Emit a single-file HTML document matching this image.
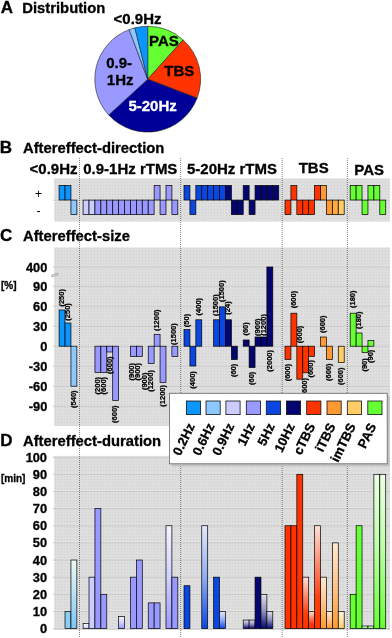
<!DOCTYPE html>
<html><head><meta charset="utf-8"><title>Figure</title><style>html,body{margin:0;padding:0;background:#fff}svg{display:block}</style></head><body>
<svg width="392" height="638" viewBox="0 0 392 638" font-family="Liberation Sans, Arial, sans-serif" font-weight="bold">
<defs>
<linearGradient id="g_c02" x1="0" y1="0" x2="0" y2="1"><stop offset="0" stop-color="#e2f2ff"/><stop offset="0.5" stop-color="#91d0ff"/><stop offset="1" stop-color="#0a96ff"/></linearGradient>
<linearGradient id="g_c06" x1="0" y1="0" x2="0" y2="1"><stop offset="0" stop-color="#f1f8ff"/><stop offset="0.5" stop-color="#cbe6ff"/><stop offset="1" stop-color="#8cc8ff"/></linearGradient>
<linearGradient id="g_c09" x1="0" y1="0" x2="0" y2="1"><stop offset="0" stop-color="#f9f9ff"/><stop offset="0.5" stop-color="#e8e8ff"/><stop offset="1" stop-color="#ccccff"/></linearGradient>
<linearGradient id="g_c1" x1="0" y1="0" x2="0" y2="1"><stop offset="0" stop-color="#f3f3ff"/><stop offset="0.5" stop-color="#d1d1ff"/><stop offset="1" stop-color="#9999ff"/></linearGradient>
<linearGradient id="g_c5" x1="0" y1="0" x2="0" y2="1"><stop offset="0" stop-color="#e2e9fb"/><stop offset="0.5" stop-color="#91acf1"/><stop offset="1" stop-color="#0a46e0"/></linearGradient>
<linearGradient id="g_c10" x1="0" y1="0" x2="0" y2="1"><stop offset="0" stop-color="#e1e1ee"/><stop offset="0.5" stop-color="#8e8ec0"/><stop offset="1" stop-color="#050572"/></linearGradient>
<linearGradient id="g_cT" x1="0" y1="0" x2="0" y2="1"><stop offset="0" stop-color="#ffe0d9"/><stop offset="0.35" stop-color="#ff8f73"/><stop offset="0.7" stop-color="#ff3d0d"/><stop offset="1" stop-color="#ff3300"/></linearGradient>
<linearGradient id="g_iT" x1="0" y1="0" x2="0" y2="1"><stop offset="0" stop-color="#ffe9d2"/><stop offset="0.5" stop-color="#ffc489"/><stop offset="1" stop-color="#ff9933"/></linearGradient>
<linearGradient id="g_iT2" x1="0" y1="0" x2="0" y2="1"><stop offset="0" stop-color="#ffecd6"/><stop offset="0.5" stop-color="#ffce93"/><stop offset="1" stop-color="#ffaa44"/></linearGradient>
<linearGradient id="g_imT" x1="0" y1="0" x2="0" y2="1"><stop offset="0" stop-color="#fff4dd"/><stop offset="0.5" stop-color="#ffe1a6"/><stop offset="1" stop-color="#ffcc66"/></linearGradient>
<linearGradient id="g_P" x1="0" y1="0" x2="0" y2="1"><stop offset="0" stop-color="#edffe7"/><stop offset="0.5" stop-color="#baffa3"/><stop offset="1" stop-color="#66ff33"/></linearGradient>
<linearGradient id="g_c06b" x1="0" y1="0" x2="0" y2="1"><stop offset="0" stop-color="#ecf9ee"/><stop offset="0.5" stop-color="#b6e1f8"/><stop offset="1" stop-color="#7cc4f8"/></linearGradient>
<pattern id="dots" x="0" y="1" width="3" height="3" patternUnits="userSpaceOnUse"><rect x="1" y="1" width="1" height="1" fill="#cfcfcf"/></pattern>
</defs>
<rect width="392" height="638" fill="#fff"/>
<text x="0.8" y="12.9" font-size="17" text-anchor="start" fill="#000" font-weight="bold" stroke="#000" stroke-width="0.3" >A</text>
<text x="22.3" y="12.9" font-size="14.8" text-anchor="start" fill="#000" font-weight="bold" stroke="#000" stroke-width="0.3" >Distribution</text>
<text x="-0.2" y="153.4" font-size="17" text-anchor="start" fill="#000" font-weight="bold" stroke="#000" stroke-width="0.3" >B</text>
<text x="23" y="153.4" font-size="14.8" text-anchor="start" fill="#000" font-weight="bold" stroke="#000" stroke-width="0.3" >Aftereffect-direction</text>
<text x="0" y="240.7" font-size="17" text-anchor="start" fill="#000" font-weight="bold" stroke="#000" stroke-width="0.3" >C</text>
<text x="23" y="240.7" font-size="14.8" text-anchor="start" fill="#000" font-weight="bold" stroke="#000" stroke-width="0.3" >Aftereffect-size</text>
<text x="0.2" y="445.8" font-size="17" text-anchor="start" fill="#000" font-weight="bold" stroke="#000" stroke-width="0.3" >D</text>
<text x="23" y="445.8" font-size="14.8" text-anchor="start" fill="#000" font-weight="bold" stroke="#000" stroke-width="0.3" >Aftereffect-duration</text>
<path d="M147.7,79.2 L147.70,26.30 A52.9,52.9 0 0 1 183.10,39.89 Z" fill="#66ff33" stroke="#222" stroke-width="0.6" stroke-linejoin="round"/>
<path d="M147.7,79.2 L183.10,39.89 A52.9,52.9 0 0 1 197.09,98.16 Z" fill="#ff3300" stroke="#222" stroke-width="0.6" stroke-linejoin="round"/>
<path d="M147.7,79.2 L197.09,98.16 A52.9,52.9 0 0 1 108.70,114.94 Z" fill="#000099" stroke="#222" stroke-width="0.6" stroke-linejoin="round"/>
<path d="M147.7,79.2 L108.70,114.94 A52.9,52.9 0 0 1 129.17,29.65 Z" fill="#9999ff" stroke="#222" stroke-width="0.6" stroke-linejoin="round"/>
<path d="M147.7,79.2 L129.17,29.65 A52.9,52.9 0 0 1 134.90,27.87 Z" fill="#8cc8ff" stroke="#222" stroke-width="0.6" stroke-linejoin="round"/>
<path d="M147.7,79.2 L134.90,27.87 A52.9,52.9 0 0 1 147.70,26.30 Z" fill="#0a96ff" stroke="#222" stroke-width="0.6" stroke-linejoin="round"/>
<text x="113.6" y="23.9" font-size="15" text-anchor="start" fill="#000" font-weight="bold" stroke="#000" stroke-width="0.3" >&lt;0.9Hz</text>
<text x="149" y="46.3" font-size="15" text-anchor="start" fill="#000" font-weight="bold" stroke="#000" stroke-width="0.3" >PAS</text>
<text x="164.3" y="76" font-size="15" text-anchor="start" fill="#000" font-weight="bold" stroke="#000" stroke-width="0.3" >TBS</text>
<text x="128.4" y="110.5" font-size="15" text-anchor="start" fill="#fff" font-weight="bold" stroke="#fff" stroke-width="0.3" >5-20Hz</text>
<text x="106.2" y="67.7" font-size="15" text-anchor="start" fill="#000" font-weight="bold" stroke="#000" stroke-width="0.3" >0.9-</text>
<text x="106.8" y="84.5" font-size="15" text-anchor="start" fill="#000" font-weight="bold" stroke="#000" stroke-width="0.3" >1Hz</text>
<text x="29.6" y="173.8" font-size="15" text-anchor="start" fill="#000" font-weight="bold" stroke="#000" stroke-width="0.3" >&lt;0.9Hz</text>
<text x="83.2" y="173.8" font-size="15" text-anchor="start" fill="#000" font-weight="bold" stroke="#000" stroke-width="0.3" >0.9-1Hz rTMS</text>
<text x="187" y="174" font-size="15" text-anchor="start" fill="#000" font-weight="bold" stroke="#000" stroke-width="0.3" >5-20Hz rTMS</text>
<text x="298.7" y="172.8" font-size="15" text-anchor="start" fill="#000" font-weight="bold" stroke="#000" stroke-width="0.3" >TBS</text>
<text x="354.3" y="174.9" font-size="15" text-anchor="start" fill="#000" font-weight="bold" stroke="#000" stroke-width="0.3" >PAS</text>
<rect x="54.2" y="178" width="335.8" height="43.5" fill="#dedede"/>
<rect x="54.2" y="178" width="335.8" height="43.5" fill="url(#dots)"/>
<rect x="54.2" y="178" width="335.8" height="1" fill="#ececec"/>
<line x1="54.2" x2="390.0" y1="199.2" y2="199.2" stroke="#e8e8e8" stroke-width="0.7"/>
<line x1="52.7" x2="390.0" y1="200.1" y2="200.1" stroke="#c4c4c4" stroke-width="0.8"/>
<rect x="54.2" y="247" width="335.8" height="179" fill="#dedede"/>
<rect x="54.2" y="247" width="335.8" height="179" fill="url(#dots)"/>
<rect x="54.2" y="247" width="335.8" height="1" fill="#ececec"/>
<line x1="54.2" x2="390.0" y1="266.1" y2="266.1" stroke="#e8e8e8" stroke-width="0.7"/>
<line x1="52.7" x2="390.0" y1="267" y2="267" stroke="#c4c4c4" stroke-width="0.8"/>
<line x1="54.2" x2="390.0" y1="285.3" y2="285.3" stroke="#e8e8e8" stroke-width="0.7"/>
<line x1="52.7" x2="390.0" y1="286.2" y2="286.2" stroke="#c4c4c4" stroke-width="0.8"/>
<line x1="54.2" x2="390.0" y1="305.3" y2="305.3" stroke="#e8e8e8" stroke-width="0.7"/>
<line x1="52.7" x2="390.0" y1="306.2" y2="306.2" stroke="#c4c4c4" stroke-width="0.8"/>
<line x1="54.2" x2="390.0" y1="325.3" y2="325.3" stroke="#e8e8e8" stroke-width="0.7"/>
<line x1="52.7" x2="390.0" y1="326.2" y2="326.2" stroke="#c4c4c4" stroke-width="0.8"/>
<line x1="54.2" x2="390.0" y1="345.3" y2="345.3" stroke="#e8e8e8" stroke-width="0.7"/>
<line x1="52.7" x2="390.0" y1="346.2" y2="346.2" stroke="#c4c4c4" stroke-width="0.8"/>
<line x1="54.2" x2="390.0" y1="365.3" y2="365.3" stroke="#e8e8e8" stroke-width="0.7"/>
<line x1="52.7" x2="390.0" y1="366.2" y2="366.2" stroke="#c4c4c4" stroke-width="0.8"/>
<line x1="54.2" x2="390.0" y1="385.3" y2="385.3" stroke="#e8e8e8" stroke-width="0.7"/>
<line x1="52.7" x2="390.0" y1="386.2" y2="386.2" stroke="#c4c4c4" stroke-width="0.8"/>
<line x1="54.2" x2="390.0" y1="405.3" y2="405.3" stroke="#e8e8e8" stroke-width="0.7"/>
<line x1="52.7" x2="390.0" y1="406.2" y2="406.2" stroke="#c4c4c4" stroke-width="0.8"/>
<rect x="54.2" y="456" width="335.8" height="174" fill="#dedede"/>
<rect x="54.2" y="456" width="335.8" height="174" fill="url(#dots)"/>
<rect x="54.2" y="456" width="335.8" height="1" fill="#ececec"/>
<line x1="54.2" x2="390.0" y1="627.7" y2="627.7" stroke="#e8e8e8" stroke-width="0.7"/>
<line x1="52.7" x2="390.0" y1="628.6" y2="628.6" stroke="#c4c4c4" stroke-width="0.8"/>
<line x1="54.2" x2="390.0" y1="610.557" y2="610.557" stroke="#e8e8e8" stroke-width="0.7"/>
<line x1="52.7" x2="390.0" y1="611.457" y2="611.457" stroke="#c4c4c4" stroke-width="0.8"/>
<line x1="54.2" x2="390.0" y1="593.4140000000001" y2="593.4140000000001" stroke="#e8e8e8" stroke-width="0.7"/>
<line x1="52.7" x2="390.0" y1="594.3140000000001" y2="594.3140000000001" stroke="#c4c4c4" stroke-width="0.8"/>
<line x1="54.2" x2="390.0" y1="576.2710000000001" y2="576.2710000000001" stroke="#e8e8e8" stroke-width="0.7"/>
<line x1="52.7" x2="390.0" y1="577.171" y2="577.171" stroke="#c4c4c4" stroke-width="0.8"/>
<line x1="54.2" x2="390.0" y1="559.128" y2="559.128" stroke="#e8e8e8" stroke-width="0.7"/>
<line x1="52.7" x2="390.0" y1="560.028" y2="560.028" stroke="#c4c4c4" stroke-width="0.8"/>
<line x1="54.2" x2="390.0" y1="541.985" y2="541.985" stroke="#e8e8e8" stroke-width="0.7"/>
<line x1="52.7" x2="390.0" y1="542.885" y2="542.885" stroke="#c4c4c4" stroke-width="0.8"/>
<line x1="54.2" x2="390.0" y1="524.8420000000001" y2="524.8420000000001" stroke="#e8e8e8" stroke-width="0.7"/>
<line x1="52.7" x2="390.0" y1="525.7420000000001" y2="525.7420000000001" stroke="#c4c4c4" stroke-width="0.8"/>
<line x1="54.2" x2="390.0" y1="507.69900000000007" y2="507.69900000000007" stroke="#e8e8e8" stroke-width="0.7"/>
<line x1="52.7" x2="390.0" y1="508.59900000000005" y2="508.59900000000005" stroke="#c4c4c4" stroke-width="0.8"/>
<line x1="54.2" x2="390.0" y1="490.55600000000004" y2="490.55600000000004" stroke="#e8e8e8" stroke-width="0.7"/>
<line x1="52.7" x2="390.0" y1="491.456" y2="491.456" stroke="#c4c4c4" stroke-width="0.8"/>
<line x1="54.2" x2="390.0" y1="473.413" y2="473.413" stroke="#e8e8e8" stroke-width="0.7"/>
<line x1="52.7" x2="390.0" y1="474.313" y2="474.313" stroke="#c4c4c4" stroke-width="0.8"/>
<line x1="54.2" x2="390.0" y1="456.27000000000004" y2="456.27000000000004" stroke="#e8e8e8" stroke-width="0.7"/>
<line x1="52.7" x2="390.0" y1="457.17" y2="457.17" stroke="#c4c4c4" stroke-width="0.8"/>
<text x="38.4" y="198.3" font-size="12" text-anchor="middle" fill="#000" font-weight="normal" stroke="#000" stroke-width="0" >+</text>
<text x="38.5" y="215" font-size="12" text-anchor="middle" fill="#000" font-weight="normal" stroke="#000" stroke-width="0" >-</text>
<text x="47.3" y="271.5" font-size="12.8" text-anchor="end" fill="#000" font-weight="bold" stroke="#000" stroke-width="0.3" >400</text>
<text x="47.3" y="290.7" font-size="12.8" text-anchor="end" fill="#000" font-weight="bold" stroke="#000" stroke-width="0.3" >90</text>
<text x="47.3" y="310.7" font-size="12.8" text-anchor="end" fill="#000" font-weight="bold" stroke="#000" stroke-width="0.3" >60</text>
<text x="47.3" y="330.7" font-size="12.8" text-anchor="end" fill="#000" font-weight="bold" stroke="#000" stroke-width="0.3" >30</text>
<text x="47.3" y="350.7" font-size="12.8" text-anchor="end" fill="#000" font-weight="bold" stroke="#000" stroke-width="0.3" >0</text>
<text x="47.3" y="370.7" font-size="12.8" text-anchor="end" fill="#000" font-weight="bold" stroke="#000" stroke-width="0.3" >-30</text>
<text x="47.3" y="390.7" font-size="12.8" text-anchor="end" fill="#000" font-weight="bold" stroke="#000" stroke-width="0.3" >-60</text>
<text x="47.3" y="410.7" font-size="12.8" text-anchor="end" fill="#000" font-weight="bold" stroke="#000" stroke-width="0.3" >-90</text>
<text x="1" y="289" font-size="10" text-anchor="start" fill="#000" font-weight="bold" stroke="#000" stroke-width="0.3" >[%]</text>
<path d="M51.8,275.1 L57.8,273.4 L57.6,275.1 L51.9,276.8 Z" stroke="#8a8a8a" stroke-width="0.7" fill="#f4f4f4"/>
<text x="47" y="633.2" font-size="12.8" text-anchor="end" fill="#000" font-weight="bold" stroke="#000" stroke-width="0.3" >0</text>
<text x="47" y="616.057" font-size="12.8" text-anchor="end" fill="#000" font-weight="bold" stroke="#000" stroke-width="0.3" >10</text>
<text x="47" y="598.9140000000001" font-size="12.8" text-anchor="end" fill="#000" font-weight="bold" stroke="#000" stroke-width="0.3" >20</text>
<text x="47" y="581.7710000000001" font-size="12.8" text-anchor="end" fill="#000" font-weight="bold" stroke="#000" stroke-width="0.3" >30</text>
<text x="47" y="564.628" font-size="12.8" text-anchor="end" fill="#000" font-weight="bold" stroke="#000" stroke-width="0.3" >40</text>
<text x="47" y="547.485" font-size="12.8" text-anchor="end" fill="#000" font-weight="bold" stroke="#000" stroke-width="0.3" >50</text>
<text x="47" y="530.3420000000001" font-size="12.8" text-anchor="end" fill="#000" font-weight="bold" stroke="#000" stroke-width="0.3" >60</text>
<text x="47" y="513.1990000000001" font-size="12.8" text-anchor="end" fill="#000" font-weight="bold" stroke="#000" stroke-width="0.3" >70</text>
<text x="47" y="496.05600000000004" font-size="12.8" text-anchor="end" fill="#000" font-weight="bold" stroke="#000" stroke-width="0.3" >80</text>
<text x="47" y="478.913" font-size="12.8" text-anchor="end" fill="#000" font-weight="bold" stroke="#000" stroke-width="0.3" >90</text>
<text x="47" y="461.77000000000004" font-size="12.8" text-anchor="end" fill="#000" font-weight="bold" stroke="#000" stroke-width="0.3" >100</text>
<text x="1" y="481.8" font-size="10" text-anchor="start" fill="#000" font-weight="bold" stroke="#000" stroke-width="0.3" >[min]</text>
<rect x="59.10" y="185.5" width="5.92" height="14.5" fill="#0a96ff" stroke="#0a0a0a" stroke-width="0.75"/>
<rect x="65.02" y="185.5" width="5.92" height="14.5" fill="#0a96ff" stroke="#0a0a0a" stroke-width="0.75"/>
<rect x="70.94" y="200.1" width="5.92" height="14.5" fill="#8cc8ff" stroke="#0a0a0a" stroke-width="0.75"/>
<rect x="83.10" y="200.1" width="5.92" height="14.5" fill="#ccccff" stroke="#0a0a0a" stroke-width="0.75"/>
<rect x="89.02" y="200.1" width="5.92" height="14.5" fill="#ccccff" stroke="#0a0a0a" stroke-width="0.75"/>
<rect x="94.94" y="200.1" width="5.92" height="14.5" fill="#9999ff" stroke="#0a0a0a" stroke-width="0.75"/>
<rect x="100.86" y="200.1" width="5.92" height="14.5" fill="#9999ff" stroke="#0a0a0a" stroke-width="0.75"/>
<rect x="106.78" y="200.1" width="5.92" height="14.5" fill="#9999ff" stroke="#0a0a0a" stroke-width="0.75"/>
<rect x="112.70" y="200.1" width="5.92" height="14.5" fill="#9999ff" stroke="#0a0a0a" stroke-width="0.75"/>
<rect x="118.62" y="200.1" width="5.92" height="14.5" fill="#9999ff" stroke="#0a0a0a" stroke-width="0.75"/>
<rect x="124.54" y="200.1" width="5.92" height="14.5" fill="#9999ff" stroke="#0a0a0a" stroke-width="0.75"/>
<rect x="130.46" y="200.1" width="5.92" height="14.5" fill="#9999ff" stroke="#0a0a0a" stroke-width="0.75"/>
<rect x="136.38" y="200.1" width="5.92" height="14.5" fill="#9999ff" stroke="#0a0a0a" stroke-width="0.75"/>
<rect x="142.30" y="200.1" width="5.92" height="14.5" fill="#9999ff" stroke="#0a0a0a" stroke-width="0.75"/>
<rect x="148.22" y="200.1" width="5.92" height="14.5" fill="#9999ff" stroke="#0a0a0a" stroke-width="0.75"/>
<rect x="154.14" y="185.5" width="5.92" height="14.5" fill="#9999ff" stroke="#0a0a0a" stroke-width="0.75"/>
<rect x="160.06" y="200.1" width="5.92" height="14.5" fill="#9999ff" stroke="#0a0a0a" stroke-width="0.75"/>
<rect x="165.98" y="185.5" width="5.92" height="14.5" fill="#9999ff" stroke="#0a0a0a" stroke-width="0.75"/>
<rect x="171.90" y="200.1" width="5.92" height="14.5" fill="#9999ff" stroke="#0a0a0a" stroke-width="0.75"/>
<rect x="184.00" y="185.5" width="5.92" height="14.5" fill="#0a46e0" stroke="#0a0a0a" stroke-width="0.75"/>
<rect x="189.92" y="200.1" width="5.92" height="14.5" fill="#0a46e0" stroke="#0a0a0a" stroke-width="0.75"/>
<rect x="195.84" y="185.5" width="5.92" height="14.5" fill="#0a46e0" stroke="#0a0a0a" stroke-width="0.75"/>
<rect x="201.76" y="185.5" width="5.92" height="14.5" fill="#0a46e0" stroke="#0a0a0a" stroke-width="0.75"/>
<rect x="207.68" y="185.5" width="5.92" height="14.5" fill="#0a46e0" stroke="#0a0a0a" stroke-width="0.75"/>
<rect x="213.60" y="185.5" width="5.92" height="14.5" fill="#0a46e0" stroke="#0a0a0a" stroke-width="0.75"/>
<rect x="219.52" y="185.5" width="5.92" height="14.5" fill="#0a46e0" stroke="#0a0a0a" stroke-width="0.75"/>
<rect x="225.44" y="185.5" width="5.92" height="14.5" fill="#050572" stroke="#0a0a0a" stroke-width="0.75"/>
<rect x="231.36" y="200.1" width="5.92" height="14.5" fill="#050572" stroke="#0a0a0a" stroke-width="0.75"/>
<rect x="237.28" y="200.1" width="5.92" height="14.5" fill="#050572" stroke="#0a0a0a" stroke-width="0.75"/>
<rect x="243.20" y="185.5" width="5.92" height="14.5" fill="#050572" stroke="#0a0a0a" stroke-width="0.75"/>
<rect x="249.12" y="200.1" width="5.92" height="14.5" fill="#050572" stroke="#0a0a0a" stroke-width="0.75"/>
<rect x="255.04" y="185.5" width="5.92" height="14.5" fill="#050572" stroke="#0a0a0a" stroke-width="0.75"/>
<rect x="260.96" y="185.5" width="5.92" height="14.5" fill="#050572" stroke="#0a0a0a" stroke-width="0.75"/>
<rect x="266.88" y="185.5" width="5.92" height="14.5" fill="#050572" stroke="#0a0a0a" stroke-width="0.75"/>
<rect x="272.80" y="185.5" width="5.92" height="14.5" fill="#050572" stroke="#0a0a0a" stroke-width="0.75"/>
<rect x="285.00" y="200.1" width="5.92" height="14.5" fill="#ff3300" stroke="#0a0a0a" stroke-width="0.75"/>
<rect x="290.92" y="185.5" width="5.92" height="14.5" fill="#ff3300" stroke="#0a0a0a" stroke-width="0.75"/>
<rect x="296.84" y="200.1" width="5.92" height="14.5" fill="#ff3300" stroke="#0a0a0a" stroke-width="0.75"/>
<rect x="302.76" y="200.1" width="5.92" height="14.5" fill="#ff3300" stroke="#0a0a0a" stroke-width="0.75"/>
<rect x="308.68" y="200.1" width="5.92" height="14.5" fill="#ff3300" stroke="#0a0a0a" stroke-width="0.75"/>
<rect x="314.60" y="185.5" width="5.92" height="14.5" fill="#ff3300" stroke="#0a0a0a" stroke-width="0.75"/>
<rect x="320.52" y="185.5" width="5.92" height="14.5" fill="#ff9933" stroke="#0a0a0a" stroke-width="0.75"/>
<rect x="326.44" y="200.1" width="5.92" height="14.5" fill="#ff9933" stroke="#0a0a0a" stroke-width="0.75"/>
<rect x="332.36" y="200.1" width="5.92" height="14.5" fill="#ffaa44" stroke="#0a0a0a" stroke-width="0.75"/>
<rect x="338.28" y="200.1" width="5.92" height="14.5" fill="#ffcc66" stroke="#0a0a0a" stroke-width="0.75"/>
<rect x="350.20" y="185.5" width="5.92" height="14.5" fill="#66ff33" stroke="#0a0a0a" stroke-width="0.75"/>
<rect x="356.12" y="185.5" width="5.92" height="14.5" fill="#66ff33" stroke="#0a0a0a" stroke-width="0.75"/>
<rect x="362.04" y="200.1" width="5.92" height="14.5" fill="#66ff33" stroke="#0a0a0a" stroke-width="0.75"/>
<rect x="367.96" y="185.5" width="5.92" height="14.5" fill="#66ff33" stroke="#0a0a0a" stroke-width="0.75"/>
<rect x="373.88" y="185.5" width="5.92" height="14.5" fill="#66ff33" stroke="#0a0a0a" stroke-width="0.75"/>
<rect x="379.80" y="200.1" width="5.92" height="14.5" fill="#66ff33" stroke="#0a0a0a" stroke-width="0.75"/>
<rect x="59.10" y="310.00" width="5.92" height="36.20" fill="#0a96ff" stroke="#000" stroke-width="0.7"/>
<rect x="65.02" y="323.00" width="5.92" height="23.20" fill="#0a96ff" stroke="#000" stroke-width="0.7"/>
<rect x="70.94" y="346.20" width="5.92" height="40.00" fill="#8cc8ff" stroke="#000" stroke-width="0.7"/>
<rect x="94.94" y="346.20" width="5.92" height="26.30" fill="#9999ff" stroke="#000" stroke-width="0.7"/>
<rect x="100.86" y="346.20" width="5.92" height="26.30" fill="#9999ff" stroke="#000" stroke-width="0.7"/>
<rect x="106.78" y="346.20" width="5.92" height="5.80" fill="#9999ff" stroke="#000" stroke-width="0.7"/>
<rect x="112.70" y="346.20" width="5.92" height="54.30" fill="#9999ff" stroke="#000" stroke-width="0.7"/>
<rect x="130.46" y="346.20" width="5.92" height="10.20" fill="#9999ff" stroke="#000" stroke-width="0.7"/>
<rect x="136.38" y="346.20" width="5.92" height="10.20" fill="#9999ff" stroke="#000" stroke-width="0.7"/>
<rect x="148.22" y="346.20" width="5.92" height="17.40" fill="#9999ff" stroke="#000" stroke-width="0.7"/>
<rect x="154.14" y="334.30" width="5.92" height="11.90" fill="#9999ff" stroke="#000" stroke-width="0.7"/>
<rect x="160.06" y="346.20" width="5.92" height="36.30" fill="#9999ff" stroke="#000" stroke-width="0.7"/>
<rect x="171.90" y="346.20" width="5.92" height="10.20" fill="#9999ff" stroke="#000" stroke-width="0.7"/>
<rect x="184.00" y="329.60" width="5.92" height="16.60" fill="#0a46e0" stroke="#000" stroke-width="0.7"/>
<rect x="189.92" y="346.20" width="5.92" height="19.80" fill="#0a46e0" stroke="#000" stroke-width="0.7"/>
<rect x="195.84" y="319.80" width="5.92" height="26.40" fill="#0a46e0" stroke="#000" stroke-width="0.7"/>
<rect x="213.60" y="319.80" width="5.92" height="26.40" fill="#0a46e0" stroke="#000" stroke-width="0.7"/>
<rect x="219.52" y="306.90" width="5.92" height="39.30" fill="#0a46e0" stroke="#000" stroke-width="0.7"/>
<rect x="225.44" y="319.80" width="5.92" height="26.40" fill="#050572" stroke="#000" stroke-width="0.7"/>
<rect x="231.36" y="346.20" width="5.92" height="13.30" fill="#050572" stroke="#000" stroke-width="0.7"/>
<rect x="243.20" y="340.00" width="5.92" height="6.20" fill="#050572" stroke="#000" stroke-width="0.7"/>
<rect x="249.12" y="346.20" width="5.92" height="21.30" fill="#050572" stroke="#000" stroke-width="0.7"/>
<rect x="255.04" y="337.00" width="5.92" height="9.20" fill="#050572" stroke="#000" stroke-width="0.7"/>
<rect x="260.96" y="337.00" width="5.92" height="9.20" fill="#050572" stroke="#000" stroke-width="0.7"/>
<rect x="266.88" y="267.00" width="5.92" height="79.20" fill="#050572" stroke="#000" stroke-width="0.7"/>
<rect x="285.00" y="346.20" width="5.92" height="13.20" fill="#ff3300" stroke="#000" stroke-width="0.7"/>
<rect x="290.92" y="313.20" width="5.92" height="33.00" fill="#ff3300" stroke="#000" stroke-width="0.7"/>
<rect x="296.84" y="346.20" width="5.92" height="33.00" fill="#ff3300" stroke="#000" stroke-width="0.7"/>
<rect x="302.76" y="346.20" width="5.92" height="26.60" fill="#ff3300" stroke="#000" stroke-width="0.7"/>
<rect x="308.68" y="346.20" width="5.92" height="10.20" fill="#ff3300" stroke="#000" stroke-width="0.7"/>
<rect x="320.52" y="337.00" width="5.92" height="9.20" fill="#ff9933" stroke="#000" stroke-width="0.7"/>
<rect x="326.44" y="346.20" width="5.92" height="13.20" fill="#ff9933" stroke="#000" stroke-width="0.7"/>
<rect x="338.28" y="346.20" width="5.92" height="16.40" fill="#ffcc66" stroke="#000" stroke-width="0.7"/>
<rect x="350.20" y="313.20" width="5.92" height="33.00" fill="#66ff33" stroke="#000" stroke-width="0.7"/>
<rect x="356.12" y="333.00" width="5.92" height="13.20" fill="#66ff33" stroke="#000" stroke-width="0.7"/>
<rect x="362.04" y="346.20" width="5.92" height="6.40" fill="#66ff33" stroke="#000" stroke-width="0.7"/>
<rect x="367.96" y="340.50" width="5.92" height="5.70" fill="#66ff33" stroke="#000" stroke-width="0.7"/>
<text transform="translate(63.7,306.6) rotate(-90)" font-size="7.5" fill="#000" stroke="#000" stroke-width="0.2">(250)</text>
<text transform="translate(69.7,320.7) rotate(-90)" font-size="7.5" fill="#000" stroke="#000" stroke-width="0.2">(250)</text>
<text transform="translate(75.5,407.9) rotate(-90)" font-size="7.5" fill="#000" stroke="#000" stroke-width="0.2">(540)</text>
<text transform="translate(99.6,394.4) rotate(-90)" font-size="7.5" fill="#000" stroke="#000" stroke-width="0.2">(200)</text>
<text transform="translate(105.6,394.4) rotate(-90)" font-size="7.5" fill="#000" stroke="#000" stroke-width="0.2">(600)</text>
<text transform="translate(111.5,373.9) rotate(-90)" font-size="7.5" fill="#000" stroke="#000" stroke-width="0.2">(600)</text>
<text transform="translate(117.4,422.9) rotate(-90)" font-size="7.5" fill="#000" stroke="#000" stroke-width="0.2">(600)</text>
<text transform="translate(134.3,380.5) rotate(-90)" font-size="7.5" fill="#000" stroke="#000" stroke-width="0.2">(900)</text>
<text transform="translate(140.4,380.5) rotate(-90)" font-size="7.5" fill="#000" stroke="#000" stroke-width="0.2">(900)</text>
<text transform="translate(146.5,390.1) rotate(-90)" font-size="7.5" fill="#000" stroke="#000" stroke-width="0.2">(900)</text>
<text transform="translate(152.9,391.8) rotate(-90)" font-size="7.5" fill="#000" stroke="#000" stroke-width="0.2">(1200)</text>
<text transform="translate(159.0,331.1) rotate(-90)" font-size="7.5" fill="#000" stroke="#000" stroke-width="0.2">(1200)</text>
<text transform="translate(165.1,406.7) rotate(-90)" font-size="7.5" fill="#000" stroke="#000" stroke-width="0.2">(1200)</text>
<text transform="translate(176.3,344.9) rotate(-90)" font-size="7.5" fill="#000" stroke="#000" stroke-width="0.2">(1500)</text>
<text transform="translate(188.6,327.2) rotate(-90)" font-size="7.5" fill="#000" stroke="#000" stroke-width="0.2">(50)</text>
<text transform="translate(194.5,388.7) rotate(-90)" font-size="7.5" fill="#000" stroke="#000" stroke-width="0.2">(400)</text>
<text transform="translate(200.5,315.4) rotate(-90)" font-size="7.5" fill="#000" stroke="#000" stroke-width="0.2">(400)</text>
<text transform="translate(217.9,316.0) rotate(-90)" font-size="7.5" fill="#000" stroke="#000" stroke-width="0.2">(1500)</text>
<text transform="translate(223.9,302.0) rotate(-90)" font-size="7.5" fill="#000" stroke="#000" stroke-width="0.2">(1500)</text>
<text transform="translate(229.9,314.7) rotate(-90)" font-size="7.5" fill="#000" stroke="#000" stroke-width="0.2">(24)</text>
<text transform="translate(236.1,377.1) rotate(-90)" font-size="7.5" fill="#000" stroke="#000" stroke-width="0.2">(60)</text>
<text transform="translate(247.7,335.6) rotate(-90)" font-size="7.5" fill="#000" stroke="#000" stroke-width="0.2">(60)</text>
<text transform="translate(253.8,385.0) rotate(-90)" font-size="7.5" fill="#000" stroke="#000" stroke-width="0.2">(60)</text>
<text transform="translate(259.8,335.9) rotate(-90)" font-size="7.5" fill="#000" stroke="#000" stroke-width="0.2">(900)</text>
<text transform="translate(265.8,335.8) rotate(-90)" font-size="7.5" fill="#000" stroke="#000" stroke-width="0.2">(1200)</text>
<text transform="translate(272.0,371.7) rotate(-90)" font-size="7.5" fill="#000" stroke="#000" stroke-width="0.2">(2000)</text>
<text transform="translate(289.7,381.3) rotate(-90)" font-size="7.5" fill="#000" stroke="#000" stroke-width="0.2">(600)</text>
<text transform="translate(295.6,308.3) rotate(-90)" font-size="7.5" fill="#000" stroke="#000" stroke-width="0.2">(600)</text>
<text transform="translate(301.5,343.2) rotate(-90)" font-size="7.5" fill="#000" stroke="#000" stroke-width="0.2">(600)</text>
<text transform="translate(307.2,395.5) rotate(-90)" font-size="7.5" fill="#000" stroke="#000" stroke-width="0.2">(600)</text>
<text transform="translate(313.2,377.6) rotate(-90)" font-size="7.5" fill="#000" stroke="#000" stroke-width="0.2">(600)</text>
<text transform="translate(325.1,333.0) rotate(-90)" font-size="7.5" fill="#000" stroke="#000" stroke-width="0.2">(600)</text>
<text transform="translate(331.0,381.0) rotate(-90)" font-size="7.5" fill="#000" stroke="#000" stroke-width="0.2">(600)</text>
<text transform="translate(343.0,385.0) rotate(-90)" font-size="7.5" fill="#000" stroke="#000" stroke-width="0.2">(600)</text>
<text transform="translate(354.9,308.0) rotate(-90)" font-size="7.5" fill="#000" stroke="#000" stroke-width="0.2">(180)</text>
<text transform="translate(360.7,329.0) rotate(-90)" font-size="7.5" fill="#000" stroke="#000" stroke-width="0.2">(180)</text>
<text transform="translate(366.6,371.6) rotate(-90)" font-size="7.5" fill="#000" stroke="#000" stroke-width="0.2">(90)</text>
<text transform="translate(372.7,363.0) rotate(-90)" font-size="7.5" fill="#000" stroke="#000" stroke-width="0.2">(90)</text>
<rect x="65.02" y="611.46" width="5.92" height="17.14" fill="#8ccdf2" stroke="#000" stroke-width="0.7"/>
<rect x="70.94" y="560.03" width="5.92" height="68.57" fill="url(#g_c06b)" stroke="#000" stroke-width="0.7"/>
<rect x="83.10" y="623.46" width="5.92" height="5.14" fill="url(#g_c09)" stroke="#000" stroke-width="0.7"/>
<rect x="89.02" y="577.17" width="5.92" height="51.43" fill="#ccccff" stroke="#000" stroke-width="0.7"/>
<rect x="94.94" y="508.60" width="5.92" height="120.00" fill="#9999ff" stroke="#000" stroke-width="0.7"/>
<rect x="100.86" y="594.31" width="5.92" height="34.29" fill="#9999ff" stroke="#000" stroke-width="0.7"/>
<rect x="118.62" y="616.60" width="5.92" height="12.00" fill="url(#g_c1)" stroke="#000" stroke-width="0.7"/>
<rect x="130.46" y="577.17" width="5.92" height="51.43" fill="#9999ff" stroke="#000" stroke-width="0.7"/>
<rect x="136.38" y="560.03" width="5.92" height="68.57" fill="#9999ff" stroke="#000" stroke-width="0.7"/>
<rect x="148.22" y="602.89" width="5.92" height="25.71" fill="#9999ff" stroke="#000" stroke-width="0.7"/>
<rect x="154.14" y="602.89" width="5.92" height="25.71" fill="#9999ff" stroke="#000" stroke-width="0.7"/>
<rect x="165.98" y="525.74" width="5.92" height="102.86" fill="url(#g_c1)" stroke="#000" stroke-width="0.7"/>
<rect x="171.90" y="577.17" width="5.92" height="51.43" fill="#9999ff" stroke="#000" stroke-width="0.7"/>
<rect x="184.00" y="585.74" width="5.92" height="42.86" fill="#0a46e0" stroke="#000" stroke-width="0.7"/>
<rect x="201.76" y="525.74" width="5.92" height="102.86" fill="url(#g_c5)" stroke="#000" stroke-width="0.7"/>
<rect x="213.60" y="577.17" width="5.92" height="51.43" fill="#0a46e0" stroke="#000" stroke-width="0.7"/>
<rect x="219.52" y="611.46" width="5.92" height="17.14" fill="url(#g_c5)" stroke="#000" stroke-width="0.7"/>
<rect x="243.20" y="620.03" width="5.92" height="8.57" fill="url(#g_c10)" stroke="#000" stroke-width="0.7"/>
<rect x="249.12" y="620.03" width="5.92" height="8.57" fill="url(#g_c10)" stroke="#000" stroke-width="0.7"/>
<rect x="255.04" y="577.17" width="5.92" height="51.43" fill="#050572" stroke="#000" stroke-width="0.7"/>
<rect x="260.96" y="594.31" width="5.92" height="34.29" fill="url(#g_c10)" stroke="#000" stroke-width="0.7"/>
<rect x="266.88" y="611.46" width="5.92" height="17.14" fill="url(#g_c10)" stroke="#000" stroke-width="0.7"/>
<rect x="285.00" y="525.74" width="5.92" height="102.86" fill="#ff3300" stroke="#000" stroke-width="0.7"/>
<rect x="290.92" y="525.74" width="5.92" height="102.86" fill="#ff3300" stroke="#000" stroke-width="0.7"/>
<rect x="296.84" y="474.31" width="5.92" height="154.29" fill="#ff3300" stroke="#000" stroke-width="0.7"/>
<rect x="302.76" y="577.17" width="5.92" height="51.43" fill="url(#g_cT)" stroke="#000" stroke-width="0.7"/>
<rect x="308.68" y="611.46" width="5.92" height="17.14" fill="url(#g_cT)" stroke="#000" stroke-width="0.7"/>
<rect x="314.60" y="525.74" width="5.92" height="102.86" fill="url(#g_cT)" stroke="#000" stroke-width="0.7"/>
<rect x="320.52" y="577.17" width="5.92" height="51.43" fill="url(#g_iT)" stroke="#000" stroke-width="0.7"/>
<rect x="326.44" y="611.46" width="5.92" height="17.14" fill="url(#g_iT)" stroke="#000" stroke-width="0.7"/>
<rect x="332.36" y="542.88" width="5.92" height="85.72" fill="url(#g_iT)" stroke="#000" stroke-width="0.7"/>
<rect x="338.28" y="611.46" width="5.92" height="17.14" fill="url(#g_imT)" stroke="#000" stroke-width="0.7"/>
<rect x="350.20" y="594.31" width="5.92" height="34.29" fill="#66ff33" stroke="#000" stroke-width="0.7"/>
<rect x="356.12" y="525.74" width="5.92" height="102.86" fill="#66ff33" stroke="#000" stroke-width="0.7"/>
<rect x="362.04" y="626.03" width="5.92" height="2.57" fill="url(#g_P)" stroke="#000" stroke-width="0.7"/>
<rect x="367.96" y="626.03" width="5.92" height="2.57" fill="url(#g_P)" stroke="#000" stroke-width="0.7"/>
<rect x="373.88" y="474.31" width="5.92" height="154.29" fill="url(#g_P)" stroke="#000" stroke-width="0.7"/>
<rect x="379.80" y="474.31" width="5.92" height="154.29" fill="url(#g_P)" stroke="#000" stroke-width="0.7"/>
<line x1="79.5" x2="79.5" y1="158" y2="638" stroke="#505050" stroke-width="0.7" stroke-dasharray="1,1"/>
<line x1="180.6" x2="180.6" y1="158" y2="638" stroke="#505050" stroke-width="0.7" stroke-dasharray="1,1"/>
<line x1="282.2" x2="282.2" y1="158" y2="638" stroke="#505050" stroke-width="0.7" stroke-dasharray="1,1"/>
<line x1="347.4" x2="347.4" y1="158" y2="638" stroke="#505050" stroke-width="0.7" stroke-dasharray="1,1"/>
<rect x="171.8" y="395.8" width="218" height="70.6" fill="#c2c2c2"/>
<rect x="169.4" y="393.3" width="217.8" height="70.5" fill="#fff" stroke="#666" stroke-width="0.8"/>
<rect x="186.4" y="401" width="14.2" height="13.6" fill="#0a96ff" stroke="#111" stroke-width="0.8"/>
<text transform="translate(195.2,426.0) rotate(-64)" font-size="13" text-anchor="end" fill="#000" stroke="#000" stroke-width="0.3">0.2Hz</text>
<rect x="206" y="401" width="14.2" height="13.6" fill="#8cc8ff" stroke="#111" stroke-width="0.8"/>
<text transform="translate(214.8,426.0) rotate(-64)" font-size="13" text-anchor="end" fill="#000" stroke="#000" stroke-width="0.3">0.6Hz</text>
<rect x="225.9" y="401" width="14.2" height="13.6" fill="#ccccff" stroke="#111" stroke-width="0.8"/>
<text transform="translate(234.7,426.0) rotate(-64)" font-size="13" text-anchor="end" fill="#000" stroke="#000" stroke-width="0.3">0.9Hz</text>
<rect x="246.3" y="401" width="14.2" height="13.6" fill="#9999ff" stroke="#111" stroke-width="0.8"/>
<text transform="translate(255.1,426.0) rotate(-64)" font-size="13" text-anchor="end" fill="#000" stroke="#000" stroke-width="0.3">1Hz</text>
<rect x="266.3" y="401" width="14.2" height="13.6" fill="#0a46e0" stroke="#111" stroke-width="0.8"/>
<text transform="translate(275.1,426.0) rotate(-64)" font-size="13" text-anchor="end" fill="#000" stroke="#000" stroke-width="0.3">5Hz</text>
<rect x="286.4" y="401" width="14.2" height="13.6" fill="#050572" stroke="#111" stroke-width="0.8"/>
<text transform="translate(295.2,426.0) rotate(-64)" font-size="13" text-anchor="end" fill="#000" stroke="#000" stroke-width="0.3">10Hz</text>
<rect x="306.7" y="401" width="14.2" height="13.6" fill="#ff3300" stroke="#111" stroke-width="0.8"/>
<text transform="translate(315.5,426.0) rotate(-64)" font-size="13" text-anchor="end" fill="#000" stroke="#000" stroke-width="0.3">cTBS</text>
<rect x="327" y="401" width="14.2" height="13.6" fill="#ff9933" stroke="#111" stroke-width="0.8"/>
<text transform="translate(335.8,426.0) rotate(-64)" font-size="13" text-anchor="end" fill="#000" stroke="#000" stroke-width="0.3">iTBS</text>
<rect x="347.3" y="401" width="14.2" height="13.6" fill="#ffcc66" stroke="#111" stroke-width="0.8"/>
<text transform="translate(356.1,426.0) rotate(-64)" font-size="13" text-anchor="end" fill="#000" stroke="#000" stroke-width="0.3">imTBS</text>
<rect x="367.8" y="401" width="14.2" height="13.6" fill="#66ff33" stroke="#111" stroke-width="0.8"/>
<text transform="translate(376.6,426.0) rotate(-64)" font-size="13" text-anchor="end" fill="#000" stroke="#000" stroke-width="0.3">PAS</text>
</svg>
</body></html>
